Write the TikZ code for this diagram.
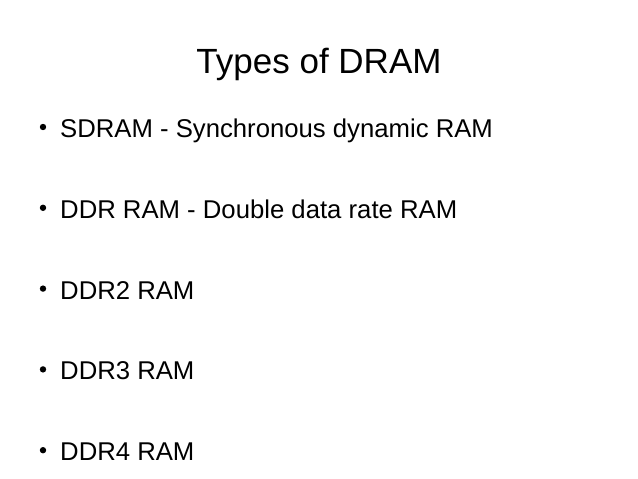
\documentclass[tikz,border=0pt]{standalone}
\usepackage{fontspec}
\setmainfont{Liberation Sans}
\begin{document}
\begin{tikzpicture}[x=1pt,y=-1pt,
  titletext/.style={anchor=base,inner sep=0pt,font=\fontsize{35}{40}\selectfont},
  itemtext/.style={anchor=base west,inner sep=0pt,font=\fontsize{25.7}{30}\selectfont},
  bulletdot/.style={fill=black,draw=none}]
\useasboundingbox (0,0) rectangle (638,479);
\fill[white] (0,0) rectangle (638,479);
\node[titletext] (title) at (319,73) {Types of DRAM};
\foreach \t [count=\i from 0] in {SDRAM - Synchronous dynamic RAM,DDR RAM - Double data rate RAM,DDR2 RAM,DDR3 RAM,DDR4 RAM}{
  \node[itemtext] (item\i) at (60,137.5+80.8*\i) {\t};
  \fill[bulletdot] (43,127+80.8*\i) circle (3.2);
}
\end{tikzpicture}
\end{document}
